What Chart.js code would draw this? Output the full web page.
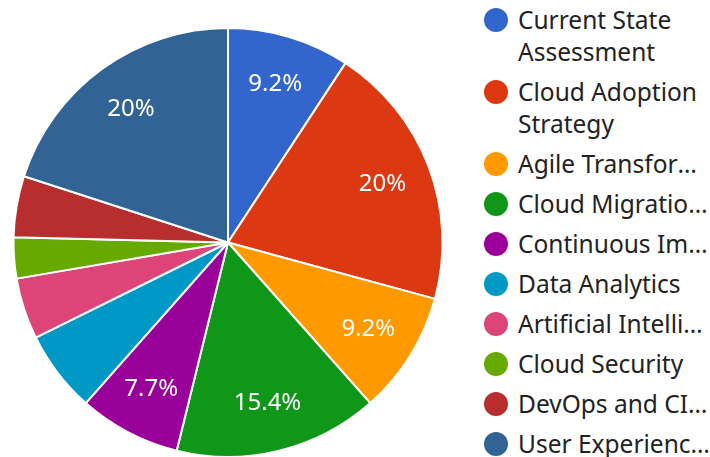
<!DOCTYPE html>
<html>
<head>
<meta charset="utf-8">
<script src="https://cdn.jsdelivr.net/npm/chart.js@4.4.1/dist/chart.umd.min.js"></script>
<style>
  body { margin: 0; background: #fff; font-family: "Noto Sans", sans-serif; }
  #wrap { position: relative; width: 710px; height: 457px; overflow: hidden; }
  #pie-box { position: absolute; left: 0; top: 0; width: 456px; height: 458px; }
  #legend { position: absolute; left: 484px; top: 4px; width: 226px; }
  .legend-item { display: flex; align-items: flex-start; margin-bottom: 8px; }
  .legend-color { flex: none; width: 24px; height: 24px; border-radius: 50%; margin-top: 4px; margin-right: 10px; }
  .legend-text { font-size: 24.5px; line-height: 32px; color: #222; width: 192px; }
  .legend-text.one { white-space: nowrap; overflow: hidden; text-overflow: ellipsis; }
</style>
</head>
<body>
<div id="wrap">
  <div id="pie-box"><canvas id="pie-chart"></canvas></div>
  <div id="legend"></div>
</div>
<script>
const categories = [
    'Current State Assessment',
    'Cloud Adoption Strategy',
    'Agile Transformation',
    'Cloud Migration Planning',
    'Continuous Improvement',
    'Data Analytics',
    'Artificial Intelligence',
    'Cloud Security',
    'DevOps and CI/CD',
    'User Experience Design'
];
const counts = [6, 13, 6, 10, 5, 4, 3, 2, 3, 13];
const colors = ['#3366cc', '#dc3912', '#ff9900', '#109618', '#990099', '#0099c6', '#dd4477', '#66aa00', '#b82e2e', '#316395'];

function formatPercent(value, total) {
    const pct = Math.round(value / total * 1000) / 10;
    return pct + '%';
}

// draws the percentage inside the bigger slices
const sliceLabels = {
    id: 'sliceLabels',
    afterDatasetsDraw(chart) {
        const ctx = chart.ctx;
        const data = chart.data.datasets[0].data;
        const total = data.reduce((a, b) => a + b, 0);
        const arcs = chart.getDatasetMeta(0).data;
        ctx.save();
        ctx.fillStyle = '#fff';
        ctx.font = '24px "Noto Sans"';
        ctx.textAlign = 'center';
        ctx.textBaseline = 'middle';
        arcs.forEach((arc, i) => {
            if (data[i] / total < 0.07) return;
            const mid = (arc.startAngle + arc.endAngle) / 2;
            const r = arc.outerRadius * 0.77;
            ctx.fillText(formatPercent(data[i], total), arc.x + Math.cos(mid) * r, arc.y + Math.sin(mid) * r);
        });
        ctx.restore();
    }
};

function createLegend(elementId, labels, colors) {
    const legendElement = document.getElementById(elementId);
    legendElement.innerHTML = '';
    labels.forEach((label, index) => {
        const legendItem = document.createElement('div');
        legendItem.className = 'legend-item';

        const colorBox = document.createElement('div');
        colorBox.className = 'legend-color';
        colorBox.style.backgroundColor = colors[index];

        const labelText = document.createElement('div');
        labelText.className = 'legend-text' + (index < 2 ? '' : ' one');
        labelText.textContent = label;

        legendItem.appendChild(colorBox);
        legendItem.appendChild(labelText);
        legendElement.appendChild(legendItem);
    });
}

const ctx = document.getElementById('pie-chart').getContext('2d');
new Chart(ctx, {
    type: 'pie',
    data: {
        labels: categories,
        datasets: [{
            data: counts,
            backgroundColor: colors,
            borderColor: '#fff',
            borderWidth: 2
        }]
    },
    options: {
        responsive: true,
        maintainAspectRatio: false,
        animation: false,
        events: [],
        layout: { padding: { top: 27, bottom: 0, left: 0, right: 0 } },
        plugins: { legend: { display: false }, tooltip: { enabled: false } }
    },
    plugins: [sliceLabels]
});

createLegend('legend', categories, colors);
</script>
</body>
</html>
